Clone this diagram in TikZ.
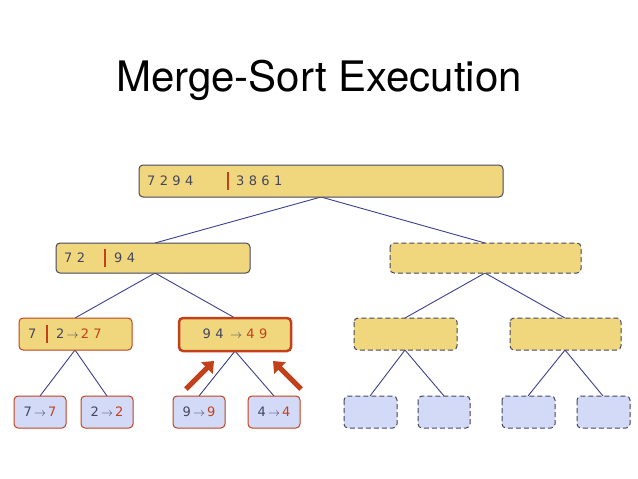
\documentclass[tikz,border=0pt]{standalone}
\usepackage{fontspec}
\usetikzlibrary{arrows.meta}
\setmainfont{TeX Gyre Heros}
\newfontfamily\boxfont{DejaVu Sans}
\begin{document}
\definecolor{yel}{HTML}{F0D77E}
\definecolor{blu}{HTML}{D3DAF8}
\definecolor{txt}{HTML}{44465E}
\definecolor{rd}{HTML}{C2411A}
\definecolor{edge}{HTML}{3B3F8C}
\begin{tikzpicture}[x=1pt,y=-1pt,
  bx/.style={draw=#1,rounded corners=4pt,line width=1pt},
  yb/.style={bx=txt,fill=yel},
  db/.style={bx=txt,fill=yel,dashed,dash pattern=on 5pt off 3pt},
  bb/.style={bx=rd,fill=blu},
  dbb/.style={bx=txt,fill=blu,dash pattern=on 5pt off 3pt},
  lbl/.style={font=\boxfont\fontsize{13}{13}\selectfont,text=txt,inner sep=0pt},
  ln/.style={edge,line width=0.9pt},
  ar/.style={rd,line width=5pt,-{Triangle[length=10pt,width=16pt]}}]
\useasboundingbox (0,0) rectangle (638,479);
\node[font=\fontsize{42}{42}\selectfont,text=black] (title) at (319,80) {Merge-Sort Execution};
\def\edg#1#2{\draw[ln] (#1) -- (#2);}
\coordinate (rb) at (321,197);
\coordinate (lt) at (155,243); \coordinate (lb) at (155,273);
\coordinate (rt) at (485,243); \coordinate (rrb) at (485,273);
\coordinate (at) at (75,318); \coordinate (ab) at (75,350);
\coordinate (bt) at (235,318); \coordinate (bbb) at (235,351);
\coordinate (ct) at (405,318); \coordinate (cb) at (405,350);
\coordinate (dt) at (565,318); \coordinate (dbo) at (565,350);
\coordinate (e1) at (40,396); \coordinate (e2) at (107,396);
\coordinate (e3) at (199,396); \coordinate (e4) at (274,396);
\coordinate (e5) at (370,396); \coordinate (e6) at (444,396);
\coordinate (e7) at (528,396); \coordinate (e8) at (603,396);
\edg{rb}{lt}\edg{rb}{rt}\edg{lb}{at}\edg{lb}{bt}\edg{rrb}{ct}\edg{rrb}{dt}
\edg{ab}{e1}\edg{ab}{e2}\edg{bbb}{e3}\edg{bbb}{e4}\edg{cb}{e5}\edg{cb}{e6}\edg{dbo}{e7}\edg{dbo}{e8}
\path[yb] (139,165) rectangle (503,197);
\path[yb] (56,243) rectangle (250,273);
\path[db] (390,243) rectangle (581,273);
\path[yb,draw=rd] (19,318) rectangle (132,350);
\path[yb,draw=rd,line width=2.5pt] (179,318) rectangle (291,351);
\path[db] (354,318) rectangle (457,350);
\path[db] (510,318) rectangle (621,350);
\path[bb] (14,396) rectangle (66,428);
\path[bb] (81,396) rectangle (133,428);
\path[bb] (173,396) rectangle (225,428);
\path[bb] (248,396) rectangle (300,428);
\path[dbb] (344,396) rectangle (397,428);
\path[dbb] (418,396) rectangle (470,428);
\path[dbb] (502,396) rectangle (555,428);
\path[dbb] (577,396) rectangle (630,428);
\node[lbl,anchor=west] (r1) at (147,181) {7\,\,2\,\,9\,\,4};
\draw[rd,line width=1.2pt] (228,172) -- (228,190);
\node[lbl,anchor=west] (r2) at (236,181) {3\,\,8\,\,6\,\,1};
\node[lbl,anchor=west] (l1) at (64,258) {7\,\,2};
\draw[rd,line width=1.2pt] (105,249) -- (105,267);
\node[lbl,anchor=west] (l2) at (114,258) {9\,\,4};
\node[lbl,anchor=west] (a1) at (28,334) {7};
\draw[rd,line width=1.2pt] (47,325) -- (47,343);
\node[lbl,anchor=west] (a2) at (56,334) {2\,$\rightarrow$\,\textcolor{rd}{2\,\,7}};
\node[lbl] (b1) at (235,334) {9\,\,4\,\,\,$\rightarrow$\,\,\textcolor{rd}{4\,\,9}};
\node[lbl] (c1) at (40,412) {7\,$\rightarrow$\,\textcolor{rd}{7}};
\node[lbl] (c2) at (107,412) {2\,$\rightarrow$\,\textcolor{rd}{2}};
\node[lbl] (c3) at (199,412) {9\,$\rightarrow$\,\textcolor{rd}{9}};
\node[lbl] (c4) at (274,412) {4\,$\rightarrow$\,\textcolor{rd}{4}};
\coordinate (p1) at (186,389); \coordinate (q1) at (214,361);
\coordinate (p2) at (301,389); \coordinate (q2) at (273,361);
\draw[ar] (p1) -- (q1);
\draw[ar] (p2) -- (q2);
\end{tikzpicture}
\end{document}
